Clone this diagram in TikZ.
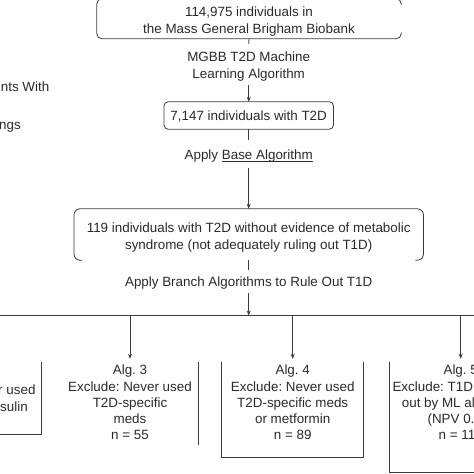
\documentclass[tikz,border=0pt]{standalone}
\usepackage{fontspec}
\setmainfont{Liberation Sans}
\usetikzlibrary{arrows.meta,calc}
\definecolor{ink}{HTML}{2A2A2A}
\definecolor{edgecol}{HTML}{3C3C3C}
\newcommand\myul[1]{\setbox0\hbox{#1}\rlap{\rule[-1.9pt]{\wd0}{0.7pt}}\box0}
\frenchspacing
\begin{document}
\begin{tikzpicture}[x=1pt,y=-1pt,
  every node/.style={text=ink,font=\fontsize{13.4}{16.2}\selectfont\frenchspacing,inner sep=0pt},
  txt/.style={align=center,anchor=north},
  gapnode/.style={minimum width=4pt,minimum height=#1},
  edgeline/.style={draw=edgecol,line width=0.8pt},
  arrline/.style={edgeline,-{Stealth[length=5pt,width=4pt]}}
]
\useasboundingbox (0,0) rectangle (474,474);
\clip (0,0) rectangle (474,474);

% main boxes (outlines drawn below)
\node[minimum width=304pt,minimum height=39.5pt] (b1) at (249,18.75) {};
\node[minimum width=169pt,minimum height=27pt] (b2) at (248.7,115.5) {};
\node[minimum width=349pt,minimum height=51pt] (b3) at (248.7,234.5) {};

% gaps for connector labels
\node[gapnode=41pt] (g1) at (248.7,64.5) {};
\node[gapnode=28pt] (g2) at (248.7,154) {};
\node[gapnode=23pt] (g3) at (248.7,281.5) {};

% texts
\node[txt] (t1) at (249,7) {114,975 individuals in\\the Mass General Brigham Biobank};
\node[txt] (l1) at (248.7,52) {MGBB T2D Machine\\Learning Algorithm};
\node[txt] (t2) at (248.7,111) {7,147 individuals with T2D};
\node[txt] (l2) at (248.7,150) {Apply \myul{Base Algorithm}};
\node[txt] (t3) at (248.7,223) {119 individuals with T2D without evidence of metabolic\\syndrome (not adequately ruling out T1D)};
\node[txt] (l3) at (248.7,277) {Apply Branch Algorithms to Rule Out T1D};

\node[anchor=north east] (s1) at (49.5,81.5) {Patients With};
\node[anchor=north east] (s2) at (21,120) {Findings};

% branch boxes
\node[minimum width=152pt,minimum height=72pt] (a2) at (-35,398) {};
\node[minimum width=136pt,minimum height=83pt] (a3) at (130,403.5) {};
\node[minimum width=141.5pt,minimum height=95pt] (a4) at (292.75,409.5) {};
\node[minimum width=141.4pt,minimum height=110pt] (a5) at (460.7,417) {};

\node[anchor=north east] (a2t1) at (35.7,385) {Exclude: Never used};
\node[anchor=north east] (a2t2) at (28,401.8) {insulin};
\node[txt] (a3t) at (130,365) {Alg. 3\\Exclude: Never used\\T2D-specific\\meds\\n = 55};
\node[txt] (a4t) at (292.7,365) {Alg. 4\\Exclude: Never used\\T2D-specific meds\\or metformin\\n = 89};
\node[txt] (a5t) at (460.7,365) {Alg. 5\\Exclude: T1D not ruled\\out by ML algorithm\\(NPV 0.99)\\n = 113};

% box outlines (as visible)
\draw[edgeline,rounded corners=5pt] ($(b1.north east)+(0,6)$) -- (b1.north east) -- (b1.north west) -- (b1.south west) -- (b1.south east) -- ($(b1.south east)+(0,-6)$);
\draw[edgeline,rounded corners=4pt] (b2.south west) rectangle (b2.north east);
\draw[edgeline,rounded corners=6pt] ($(b3.south west)+(8,0)$) -- (b3.south west) -- (b3.north west) -- (b3.north east) -- (b3.south east) -- ($(b3.south east)+(-8,0)$);

\draw[edgeline] (a2.north east) -- (a2.south east) -- (a2.south west);
\draw[edgeline] (a3.north east) -- (a3.south east);
\draw[edgeline] (a4.north west) -- (a4.south west) -- (a4.south east) -- (a4.north east);
\draw[edgeline] (a5.north west) -- (a5.south west) -- (a5.south east);

% connectors
\draw[edgeline] (b1.south) -- (g1.north);
\draw[arrline] (g1.south) -- (b2.north);
\draw[edgeline] (b2.south) -- (g2.north);
\draw[arrline] (g2.south) -- (b3.north);
\draw[edgeline] (b3.south) -- (g3.north);

\coordinate (hub) at (248.7,315.5);
\coordinate (busL) at (-150,315.5);
\coordinate (busR) at (620,315.5);
\coordinate (h3) at (130,315.5);
\coordinate (h4) at (292.75,315.5);
\coordinate (h5) at (460.7,315.5);
\draw[arrline] (g3.south) -- (hub);
\draw[edgeline] (busL) -- (busR);
\draw[arrline,shorten >=3pt] (h3) -- (a3.north);
\draw[arrline,shorten >=3pt] (h4) -- (a4.north);
\draw[arrline,shorten >=3pt] (h5) -- (a5.north);
\end{tikzpicture}
\end{document}
